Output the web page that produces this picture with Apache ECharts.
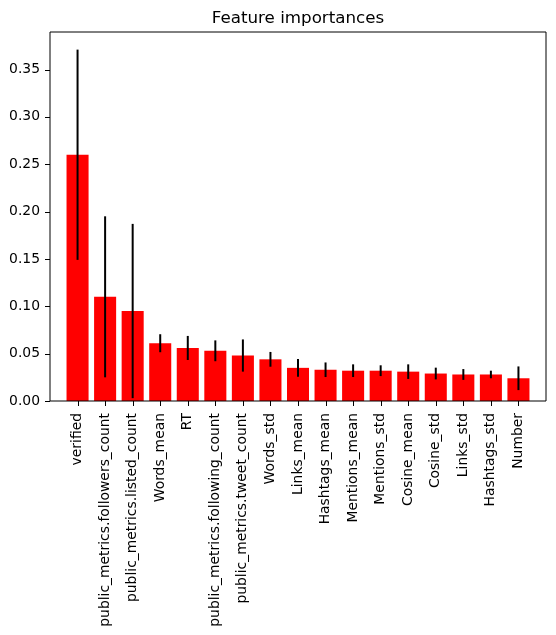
<!DOCTYPE html>
<html>
<head>
<meta charset="utf-8">
<script src="https://cdn.jsdelivr.net/npm/echarts@6/dist/echarts.min.js"></script>
<style>
html,body{margin:0;padding:0;background:#fff;}
#chart{width:556px;height:635px;}
</style>
</head>
<body>
<div id="chart"></div>
<script>
var categories = ['verified','public_metrics.followers_count','public_metrics.listed_count','Words_mean','RT','public_metrics.following_count','public_metrics.tweet_count','Words_std','Links_mean','Hashtags_mean','Mentions_mean','Mentions_std','Cosine_mean','Cosine_std','Links_std','Hashtags_std','Number'];
var importances = [0.260, 0.110, 0.095, 0.061, 0.056, 0.053, 0.048, 0.044, 0.035, 0.033, 0.032, 0.032, 0.031, 0.029, 0.028, 0.028, 0.024];
var stds = [0.111, 0.085, 0.092, 0.0095, 0.0127, 0.011, 0.017, 0.0078, 0.0094, 0.0077, 0.0067, 0.0057, 0.0077, 0.0062, 0.0057, 0.0040, 0.0125];
var yTicks = [0, 0.05, 0.10, 0.15, 0.20, 0.25, 0.30, 0.35];
var yMax = 0.3896;
var yTickMax = 0.35;
var yTickStep = 0.05;

// layout (pixels)
var L = 50, R = 10, T = 32, B = 234, W = 556, H = 635;
var plotW = W - L - R, plotH = H - T - B;
var unit = plotW / (categories.length + 1);       // x limits [-1, n]
var tickTop = T + plotH * (1 - yTickMax / yMax);
var TICK = 5;

var data = categories.map(function(c, i){ return [i, importances[i], stds[i]]; });
var FONT = 'DejaVu Sans';
var hidden = {axisLine:{show:false}, axisTick:{show:false}, axisLabel:{show:false}, splitLine:{show:false}};

var chart = echarts.init(document.getElementById('chart'), null, {renderer:'canvas'});
chart.setOption({
  backgroundColor: '#fff',
  animation: false,
  title: {
    text: 'Feature importances',
    left: L + plotW / 2, top: 10, textAlign: 'center', padding: 0,
    textStyle: {fontFamily: FONT, fontSize: 16.7, fontWeight: 'normal', color: '#000'}
  },
  grid: [
    {left: L, right: R, top: T, bottom: B, containLabel: false, outerBoundsMode: 'none',
     show: true, borderColor: '#000', borderWidth: 1, backgroundColor: 'transparent', z: 10},
    {left: L + unit / 2, right: R + unit / 2, top: T, bottom: B, containLabel: false, outerBoundsMode: 'none'},
    {left: L, right: R, top: tickTop, bottom: B, containLabel: false, outerBoundsMode: 'none'}
  ],
  xAxis: [
    Object.assign({type: 'value', gridIndex: 0, min: -1, max: categories.length}, hidden),
    {
      type: 'category', gridIndex: 1, data: categories, boundaryGap: true,
      axisLine: {show: false},
      splitLine: {show: false},
      axisTick: {show: false},
      axisLabel: {show: true, interval: 0, rotate: 90, margin: 12,
        fontFamily: FONT, fontSize: 13.9, color: '#000'}
    },
    Object.assign({type: 'value', gridIndex: 2, min: 0, max: 1}, hidden)
  ],
  yAxis: [
    Object.assign({type: 'value', gridIndex: 0, min: 0, max: yMax}, hidden),
    Object.assign({type: 'value', gridIndex: 1, min: 0, max: yMax}, hidden),
    {
      type: 'value', gridIndex: 2, min: 0, max: yTickMax, interval: yTickStep,
      axisLine: {show: false},
      splitLine: {show: false},
      axisTick: {show: false},
      axisLabel: {show: true, margin: 10, fontFamily: FONT, fontSize: 13.9, color: '#000',
        formatter: function(v){ return v.toFixed(2); }}
    }
  ],
  series: [
    {
      type: 'bar', xAxisIndex: 1, yAxisIndex: 1,
      data: importances, barWidth: '80%',
      itemStyle: {color: '#ff0000'}, z: 2
    },
    {
      type: 'custom', xAxisIndex: 1, yAxisIndex: 1,
      data: data,
      encode: {x: 0, y: 1},
      renderItem: function(params, api){
        var i = api.value(0), v = api.value(1), s = api.value(2);
        var a = api.coord([i, v - s]);
        var b = api.coord([i, v + s]);
        return {type: 'line', shape: {x1: a[0], y1: a[1], x2: b[0], y2: b[1]}, style: {stroke: '#000', lineWidth: 2}};
      },
      z: 3
    },
    {
      // x-axis tick marks at category centres
      type: 'custom', xAxisIndex: 1, yAxisIndex: 1, clip: false,
      data: categories.map(function(c, i){ return [i, 0]; }),
      encode: {x: 0, y: 1},
      renderItem: function(params, api){
        var p = api.coord([api.value(0), 0]);
        var x = Math.round(p[0]) + 0.5, y = Math.round(p[1]);
        return {type: 'line', shape: {x1: x, y1: y, x2: x, y2: y + TICK}, style: {stroke: '#000', lineWidth: 1}};
      },
      z: 5
    },
    {
      // y-axis tick marks
      type: 'custom', xAxisIndex: 2, yAxisIndex: 2, clip: false,
      data: yTicks.map(function(v){ return [0, v]; }),
      encode: {x: 0, y: 1},
      renderItem: function(params, api){
        var p = api.coord([0, api.value(1)]);
        var x = Math.round(p[0]), y = Math.round(p[1]) + 0.5;
        return {type: 'line', shape: {x1: x - TICK, y1: y, x2: x, y2: y}, style: {stroke: '#000', lineWidth: 1}};
      },
      z: 5
    }
  ]
});
</script>
</body>
</html>
